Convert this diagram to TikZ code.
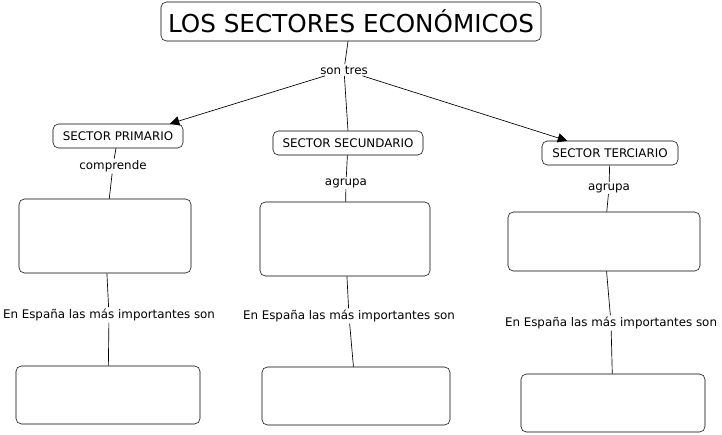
\documentclass[tikz,border=0pt]{standalone}
\usepackage{fontspec}
\setmainfont{DejaVu Sans}
\usetikzlibrary{arrows.meta}
\begin{document}
\begin{tikzpicture}[x=0.75pt,y=-0.75pt,
 box/.style={draw,rounded corners=4pt,inner sep=0pt,fill=white},
 lbl/.style={font=\fontsize{8.9}{10}\selectfont,fill=white,inner sep=1pt},
 con/.style={draw,line width=0.5pt},
 arr/.style={con,-{Triangle[length=7pt,width=7pt]}}]
\useasboundingbox (0,0) rectangle (722,435);
\node[box,minimum width=380*0.75pt,minimum height=39*0.75pt,font=\fontsize{18.5}{20}\selectfont] (t) at (351,21.5) {LOS SECTORES ECONÓMICOS};
\node[lbl] (st) at (344,70) {son tres};
\node[box,minimum width=130*0.75pt,minimum height=24*0.75pt,font=\fontsize{8.9}{10}\selectfont] (p) at (118,136) {SECTOR PRIMARIO};
\node[box,minimum width=150*0.75pt,minimum height=24*0.75pt,font=\fontsize{8.9}{10}\selectfont] (s) at (348,143) {SECTOR SECUNDARIO};
\node[box,minimum width=136*0.75pt,minimum height=24*0.75pt,font=\fontsize{8.9}{10}\selectfont] (r) at (610,153) {SECTOR TERCIARIO};
\node[lbl] (cp) at (113,166) {comprende};
\node[lbl] (as) at (346,183) {agrupa};
\node[lbl] (ar) at (609,188) {agrupa};
\node[box,minimum width=172*0.75pt,minimum height=74*0.75pt] (p1) at (105,236) {};
\node[box,minimum width=170*0.75pt,minimum height=74*0.75pt] (s1) at (345,239) {};
\node[box,minimum width=192*0.75pt,minimum height=59*0.75pt] (r1) at (604,241.5) {};
\node[lbl] (ep) at (109,315) {En España las más importantes son};
\node[lbl] (es) at (349,316) {En España las más importantes son};
\node[lbl] (er) at (611,323) {En España las más importantes son};
\node[box,minimum width=184*0.75pt,minimum height=58*0.75pt] (p2) at (108,395) {};
\node[box,minimum width=188*0.75pt,minimum height=58*0.75pt] (s2) at (356,396) {};
\node[box,minimum width=184*0.75pt,minimum height=58*0.75pt] (r2) at (613,403) {};
\draw[con] (t.south) ++(-3,0) -- (st);
\draw[arr] (st) -- ([xshift=-10pt]p.north east);
\draw[con] (st) -- (s.north);
\draw[arr] (st) -- ([xshift=19pt]r.north west);
\draw[con] (p) -- (cp); \draw[con] (cp) -- (p1);
\draw[con] (s) -- (as); \draw[con] (as) -- (s1);
\draw[con] (r) -- (ar); \draw[con] (ar) -- (r1);
\draw[con] (p1) -- (ep); \draw[con] (ep) -- (p2);
\draw[con] (s1) -- (es); \draw[con] (es) -- (s2);
\draw[con] (r1) -- (er); \draw[con] (er) -- (r2);
\end{tikzpicture}
\end{document}
